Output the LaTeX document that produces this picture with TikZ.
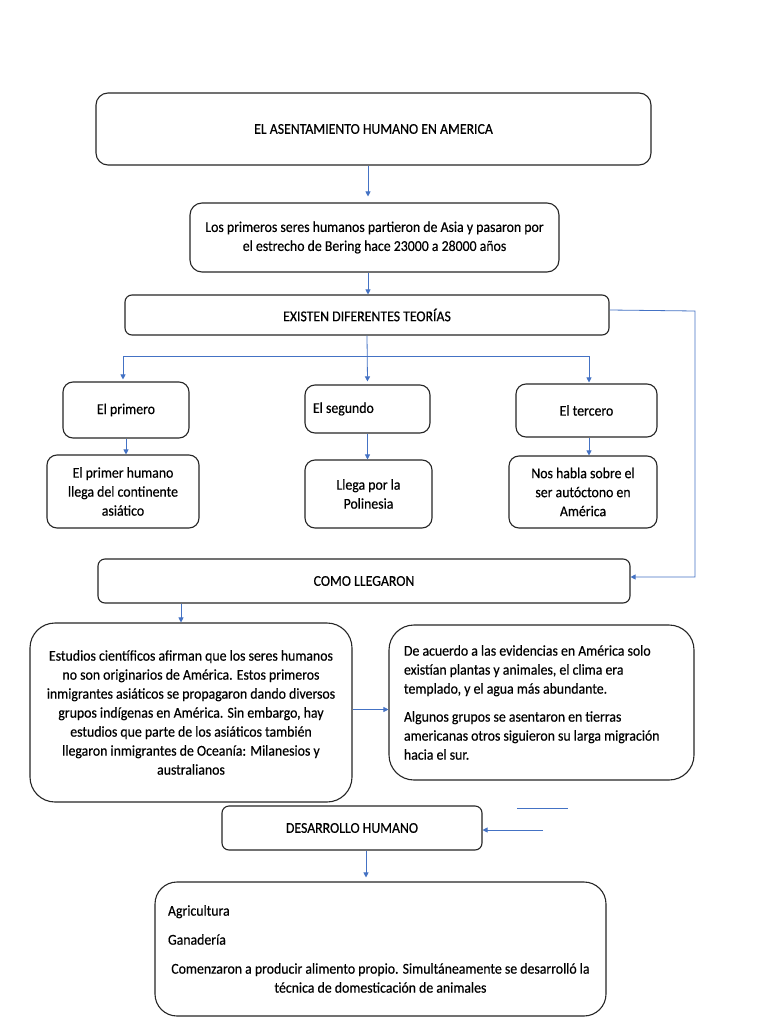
\documentclass[tikz,border=0pt]{standalone}
\usepackage{fontspec}
\setmainfont{Carlito}[FakeStretch=0.92,FakeBold=0.4]
\usetikzlibrary{arrows.meta}
\definecolor{arrowblue}{HTML}{4472C4}
\definecolor{boxline}{HTML}{262626}
\begin{document}
\begin{tikzpicture}[x=1pt,y=-1pt,
  box/.style={draw=boxline, line width=1.1pt, rounded corners=10pt, align=center, inner sep=0pt,
    font=\fontsize{15}{19}\selectfont},
  arr/.style={draw=arrowblue, line width=0.8pt, -{Triangle[width=5pt,length=5pt]}},
  ln/.style={draw=arrowblue, line width=0.8pt}]
\useasboundingbox[fill=white] (0,0) rectangle (768,1024);

\node[box, minimum width=555pt, minimum height=72pt, rounded corners=12pt] (title) at (373.5,129) {EL ASENTAMIENTO HUMANO EN AMERICA};
\node[box, minimum width=369pt, minimum height=69pt, rounded corners=12pt] (bering) at (374.5,237.5) {Los primeros seres humanos partieron de Asia y pasaron por\\el estrecho de Bering hace 23000 a 28000 años};
\node[box, minimum width=484pt, minimum height=40pt, rounded corners=7pt] (teorias) at (367,315) {EXISTEN DIFERENTES TEORÍAS};
\node[box, minimum width=126pt, minimum height=56pt] (p1) at (126,410) {El primero};
\node[box, minimum width=125pt, minimum height=48pt, text width=109pt, align=flush left] (p2) at (367.5,409) {El segundo};
\node[box, minimum width=141pt, minimum height=53pt] (p3) at (586.5,410.5) {El tercero};
\node[box, minimum width=152pt, minimum height=73pt] (d1) at (123,491.5) {El primer humano\\llega del continente\\asiático};
\node[box, minimum width=127pt, minimum height=68pt] (d2) at (368.5,494) {Llega por la\\Polinesia};
\node[box, minimum width=148pt, minimum height=72pt] (d3) at (583,492) {Nos habla sobre el\\ser autóctono en\\América};
\node[box, minimum width=532pt, minimum height=44pt, rounded corners=7pt] (como) at (364,581) {COMO LLEGARON};
\node[box, minimum width=322pt, minimum height=179pt, rounded corners=25pt] (estudios) at (191,712.5) {Estudios científicos afirman que los seres humanos\\no son originarios de América. Estos primeros\\inmigrantes asiáticos se propagaron dando diversos\\grupos indígenas en América. Sin embargo, hay\\estudios que parte de los asiáticos también\\llegaron inmigrantes de Oceanía: Milanesios y\\australianos};
\node[box, minimum width=305pt, minimum height=155pt, rounded corners=25pt, text width=275pt, align=flush left] (acuerdo) at (541.5,702.5) {De acuerdo a las evidencias en América solo\\existían plantas y animales, el clima era\\templado, y el agua más abundante.\\[9pt]Algunos grupos se asentaron en tierras\\americanas otros siguieron su larga migración\\hacia el sur.};
\node[box, minimum width=260pt, minimum height=44pt, rounded corners=7pt] (desarrollo) at (352,828) {DESARROLLO HUMANO};
\node[box, minimum width=451pt, minimum height=134pt, rounded corners=22pt, text width=425pt, align=flush left] (final) at (380.5,949) {Agricultura\\[10pt]Ganadería\\[10pt]\makebox[\linewidth]{Comenzaron a producir alimento propio. Simultáneamente se desarrolló la}\\\makebox[\linewidth]{técnica de domesticación de animales}};

\coordinate (br) at (367,356);
\coordinate (loopA) at (695,311);
\coordinate (s1) at (517,808);
\coordinate (s2) at (568,808);
\coordinate (s3) at (543,830);

\draw[arr] ([xshift=-5.5pt]title.south) -- ([xshift=-6.5pt,yshift=6pt]bering.north);
\draw[arr] ([xshift=-6.5pt]bering.south) -- ([xshift=1pt]teorias.north);
\draw[arr] (teorias.south) -- ([yshift=3pt]p2.north);
\draw[arr] (br) -| ([xshift=-3pt,yshift=2pt]p1.north);
\draw[arr] (br) -| ([xshift=2.5pt,yshift=1pt]p3.north);
\draw[arr] (p1.south) -- (p1.south |- d1.north);
\draw[arr] (p2.south) -- (p2.south |- d2.north);
\draw[arr] ([xshift=2.5pt]p3.south) -- ([xshift=2.5pt]p3.south |- d3.north);
\draw[arr] ([yshift=5pt]teorias.east) -- (loopA) |- ([yshift=4pt]como.east);
\draw[arr] ([xshift=-183pt]como.south) -- ([xshift=-10pt]estudios.north);
\draw[arr] ([yshift=3pt]estudios.east) -- ([yshift=3pt]estudios.east -| acuerdo.west);
\draw[ln] (s1) -- (s2);
\draw[arr] (s3) -- (s3 -| desarrollo.east);
\draw[arr] ([xshift=14pt]desarrollo.south) -- ([xshift=-14.5pt,yshift=4pt]final.north);
\end{tikzpicture}
\end{document}
